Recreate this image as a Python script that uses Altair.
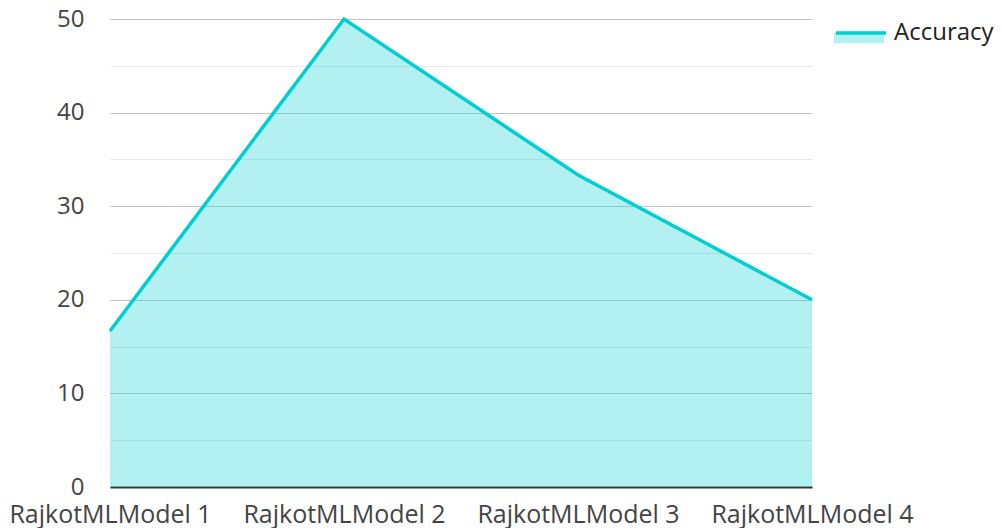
import altair as alt
import pandas as pd

models = ["RajkotMLModel 1", "RajkotMLModel 2", "RajkotMLModel 3", "RajkotMLModel 4"]
accuracy = [16.67, 50.0, 33.33, 20.0]
series = ["Accuracy"] * len(models)
y_ticks = [0, 5, 10, 15, 20, 25, 30, 35, 40, 45, 50]

df = pd.DataFrame({"model": models, "value": accuracy, "series": series})

FONT = "Open Sans"
CYAN = "#00CED1"

x_enc = alt.X(
    "model:N",
    sort=models,
    scale=alt.Scale(type="point", padding=0),
    axis=alt.Axis(
        title=None, labelAngle=0, ticks=False, grid=False,
        domainColor="#333333", domainWidth=2,
        labelFont=FONT, labelFontSize=25, labelColor="#444444",
        labelPadding=15, labelLimit=0, labelOverlap=False,
    ),
)
y_enc = alt.Y(
    "value:Q",
    scale=alt.Scale(domain=[0, 50], nice=False),
    axis=alt.Axis(
        title=None, values=y_ticks, domain=False, ticks=False,
        labelExpr="datum.value % 10 === 0 ? datum.label : ''",
        labelFont=FONT, labelFontSize=24, labelColor="#444444",
        labelPadding=26,
        gridColor={"condition": {"test": "datum.value % 10 === 0", "value": "#c4c4c4"}, "value": "#e8e8e8"},
        gridWidth=1,
    ),
)

area = alt.Chart(df).mark_area(fillOpacity=0.3, line=False).encode(
    x=x_enc, y=y_enc,
    fill=alt.Fill(
        "series:N",
        scale=alt.Scale(domain=["Accuracy"], range=[CYAN]),
        legend=alt.Legend(
            title=None, orient="none", legendX=724, legendY=-13, padding=0,
            symbolType="M-1,0.07 L1,0.07 L1,0.49 L-1,0.49 Z",
            symbolSize=2500, symbolOpacity=0.3, symbolStrokeWidth=0,
            labelOffset=6, labelFont=FONT, labelFontSize=24, labelLimit=0,
            labelColor="#222222", labelOpacity=0,
        ),
    ),
)

line = alt.Chart(df).mark_line(strokeWidth=3.5).encode(
    x=x_enc, y=y_enc,
    stroke=alt.Stroke(
        "series:N",
        scale=alt.Scale(domain=["Accuracy"], range=[CYAN]),
        legend=alt.Legend(
            title=None, orient="none", legendX=724, legendY=-13, padding=0,
            symbolType="stroke", symbolSize=2500, symbolStrokeWidth=3.5,
            labelOffset=6, labelFont=FONT, labelFontSize=24, labelLimit=0,
            labelColor="#222222",
        ),
    ),
)

chart = (
    alt.layer(area, line)
    .resolve_legend(fill="independent", stroke="independent")
    .properties(
        width=702, height=468,
        autosize=alt.AutoSizeParams(type="none"),
        padding={"left": 102, "top": 11, "right": 182, "bottom": 45},
    )
    .configure_view(stroke=None)
)

chart.save("out.html", embed_options={"renderer": "svg", "actions": False})
